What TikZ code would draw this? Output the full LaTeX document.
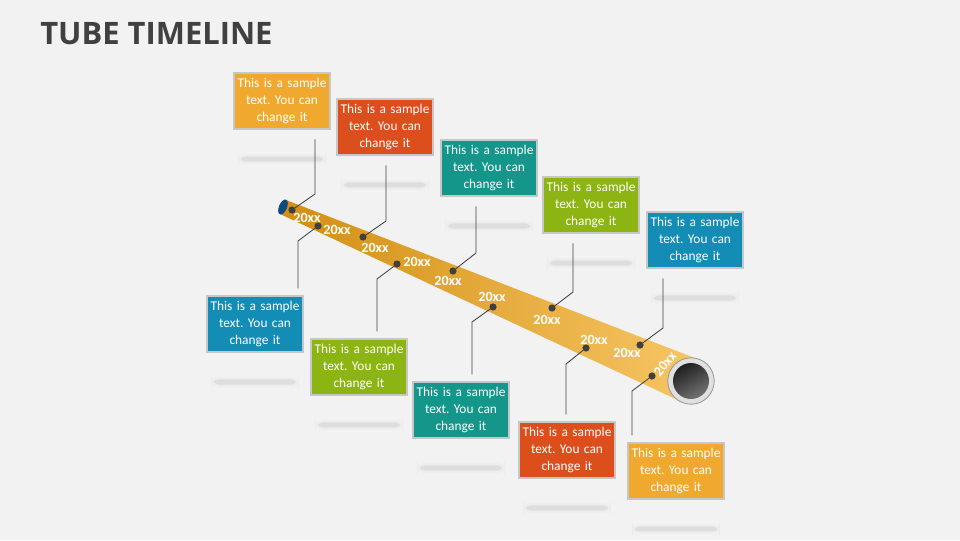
\documentclass[tikz,border=0pt]{standalone}
\usepackage{fontspec}
\setmainfont{Carlito}
\newfontfamily\titlefont{Open Sans}
\usetikzlibrary{positioning}
\frenchspacing

\definecolor{bgc}{HTML}{F2F2F2}
\definecolor{orangec}{HTML}{F0A92E}
\definecolor{redc}{HTML}{DC4E1C}
\definecolor{tealc}{HTML}{14968A}
\definecolor{greenc}{HTML}{8CB413}
\definecolor{bluec}{HTML}{138DB6}
\definecolor{tubeA}{HTML}{D28E12}
\definecolor{tubeB}{HTML}{F7C665}
\definecolor{capc}{HTML}{0D4A7F}
\definecolor{linec}{HTML}{404040}

\begin{document}
\begin{tikzpicture}[x=0.025cm, y=-0.025cm, % one unit = one pixel, y goes down
	box/.style={rectangle, fill=#1, draw=black!22, line width=0.8pt, text=white,
		text width=2.32cm, align=center, minimum width=2.4cm, minimum height=1.4cm,
		inner sep=1pt, font=\fontsize{9.5}{12}\selectfont}, % text boxes
	bar/.style={rectangle, rounded corners=4pt, fill=black!13, draw=black!7,
		line width=1.5pt, minimum width=2.15cm, minimum height=0.18cm, inner sep=0pt}, % grey placeholder
	dot/.style={circle, fill=linec, inner sep=0pt, minimum size=0.18cm},
	year/.style={text=white, font=\bfseries\fontsize{10}{10}\selectfont, inner sep=0pt},
	link/.style={draw=linec, line width=0.6pt} % connector style
	]
	\fill[bgc] (0,0) rectangle (960,540);
	\useasboundingbox (0,0) rectangle (960,540);
	\node[anchor=west, inner sep=0pt, text=linec,
		font=\titlefont\bfseries\fontsize{22}{26}\selectfont] (title) at (40,34) {TUBE TIMELINE};

	% the tube
	\shade[left color=tubeA, right color=tubeB] (286,200) -- (700,360) -- (682,402) -- (280,214) -- cycle;
	\fill[capc, rotate around={-23:(283,207)}] (283,207) ellipse [x radius=0.1cm, y radius=0.2cm];
	\filldraw[fill=black!12, draw=black!40, line width=0.6pt] (691,381) circle [radius=0.58cm];
	\shade[top color=black!88, bottom color=black!55, shading angle=30] (691,381) circle [radius=0.45cm];

	% dots on the tube
	\node[dot] (t1) at (292,210) {};
	\node[dot] (d1) at (318,226) {};
	\node[dot] (t2) at (363,237) {};
	\node[dot] (d2) at (397,264) {};
	\node[dot] (t3) at (453,271) {};
	\node[dot] (d3) at (493,307) {};
	\node[dot] (t4) at (552,308) {};
	\node[dot] (d4) at (586,348) {};
	\node[dot] (t5) at (640,345) {};
	\node[dot] (d5) at (652,376) {};

	% years
	\node[year] (y1) at (307,218) {20xx};
	\node[year] (y2) at (337,230) {20xx};
	\node[year] (y3) at (375,248) {20xx};
	\node[year] (y4) at (417,262) {20xx};
	\node[year] (y5) at (448,281) {20xx};
	\node[year] (y6) at (492,297) {20xx};
	\node[year] (y7) at (547,320) {20xx};
	\node[year] (y8) at (594,340) {20xx};
	\node[year] (y9) at (627,353) {20xx};
	\node[year, rotate=50] (y10) at (665,364) {20xx};

	% boxes above
	\node[box=orangec] (b1) at (282,101) {This is a sample text. You can change it};
	\node[box=redc] (b2) at (385,127) {This is a sample text. You can change it};
	\node[box=tealc] (b3) at (489,168) {This is a sample text. You can change it};
	\node[box=greenc] (b4) at (591,205) {This is a sample text. You can change it};
	\node[box=bluec] (b5) at (695,240) {This is a sample text. You can change it};
	% boxes below
	\node[box=bluec] (b6) at (255,324) {This is a sample text. You can change it};
	\node[box=greenc] (b7) at (359,367) {This is a sample text. You can change it};
	\node[box=tealc] (b8) at (461,410) {This is a sample text. You can change it};
	\node[box=redc] (b9) at (567,450) {This is a sample text. You can change it};
	\node[box=orangec] (b10) at (676,471) {This is a sample text. You can change it};

	% placeholders under the boxes
	\node[bar, below=0.62cm of b1] (g1) {};
	\node[bar, below=0.62cm of b2] (g2) {};
	\node[bar, below=0.62cm of b3] (g3) {};
	\node[bar, below=0.62cm of b4] (g4) {};
	\node[bar, below=0.62cm of b5] (g5) {};
	\node[bar, below=0.62cm of b6] (g6) {};
	\node[bar, below=0.62cm of b7] (g7) {};
	\node[bar, below=0.62cm of b8] (g8) {};
	\node[bar, below=0.62cm of b9] (g9) {};
	\node[bar, below=0.62cm of b10] (g10) {};

	% knees of the connectors
	\coordinate (k1) at (315,194);
	\coordinate (k2) at (386,221);
	\coordinate (k3) at (476,253);
	\coordinate (k4) at (573,292);
	\coordinate (k5) at (663,328);
	\coordinate (k6) at (298,241);
	\coordinate (k7) at (377,279);
	\coordinate (k8) at (472,322);
	\coordinate (k9) at (566,364);
	\coordinate (k10) at (632,391);

	\draw[link, shorten <=7pt] (k1 |- b1.south) -- (k1) -- (t1);
	\draw[link, shorten <=7pt] (k2 |- b2.south) -- (k2) -- (t2);
	\draw[link, shorten <=7pt] (k3 |- b3.south) -- (k3) -- (t3);
	\draw[link, shorten <=7pt] (k4 |- b4.south) -- (k4) -- (t4);
	\draw[link, shorten <=7pt] (k5 |- b5.south) -- (k5) -- (t5);
	\draw[link, shorten >=5pt] (d1) -- (k6) -- (k6 |- b6.north);
	\draw[link, shorten >=5pt] (d2) -- (k7) -- (k7 |- b7.north);
	\draw[link, shorten >=5pt] (d3) -- (k8) -- (k8 |- b8.north);
	\draw[link, shorten >=5pt] (d4) -- (k9) -- (k9 |- b9.north);
	\draw[link, shorten >=5pt] (d5) -- (k10) -- (k10 |- b10.north);
\end{tikzpicture}
\end{document}
